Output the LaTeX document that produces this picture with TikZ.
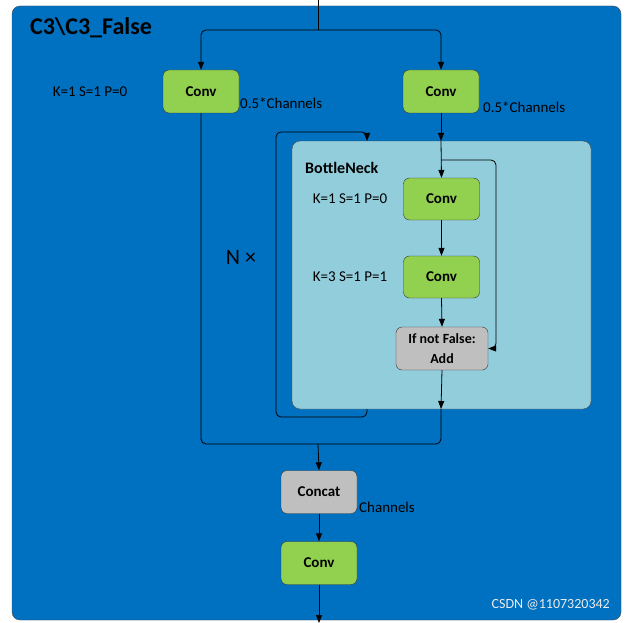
\documentclass[tikz,border=0pt]{standalone}
\usepackage{fontspec}
\setmainfont{Carlito}
\usetikzlibrary{arrows.meta}
\definecolor{bg}{HTML}{0070C0}
\definecolor{bn}{HTML}{92CDDC}
\definecolor{gr}{HTML}{92D050}
\definecolor{gy}{HTML}{BFBFBF}
\begin{document}
\begin{tikzpicture}[x=1pt,y=-1pt,
  box/.style={draw=black!80,rounded corners=6pt,minimum width=76pt,minimum height=43pt,font=\bfseries\fontsize{15}{17}\selectfont,align=center,inner sep=1pt},
  lbl/.style={font=\fontsize{15}{17}\selectfont,inner sep=0pt},
  ar/.style={-{Triangle[length=8pt,width=6pt]},line width=0.8pt},
  ln/.style={line width=0.8pt,rounded corners=5pt}]
\useasboundingbox (0,0) rectangle (626,623);
\fill[white] (0,0) rectangle (626,623);
\draw[fill=bg,draw=black!70,rounded corners=8pt] (12,6) rectangle (621,620);
\node[font=\bfseries\fontsize{24}{26}\selectfont,anchor=west,inner sep=0pt] (title) at (30,28) {C3\textbackslash C3\_False};
\draw[fill=bn,draw=black!70,rounded corners=8pt] (292,141) rectangle (591,409);
\node[font=\bfseries\fontsize{16}{18}\selectfont,anchor=west,inner sep=0pt] (bnl) at (305,168) {BottleNeck};
\node[box,fill=gr] (c1) at (201,91.5) {Conv};
\node[box,fill=gr] (c2) at (441,91.5) {Conv};
\node[box,fill=gr,minimum height=42pt] (ca) at (441.5,199) {Conv};
\node[box,fill=gr,minimum height=42pt] (cb) at (441.5,277) {Conv};
\node[box,fill=gy,minimum width=92pt,font=\bfseries\fontsize{14}{20}\selectfont] (add) at (442,348.5) {If not False:\\Add};
\node[box,fill=gy] (cc) at (319,492) {Concat};
\node[box,fill=gr] (c3) at (319,563) {Conv};
\node[lbl] (k0) at (90,92) {K=1 S=1 P=0};
\node[lbl,anchor=west] (h1) at (240,103) {0.5*Channels};
\node[lbl,anchor=west] (h2) at (483,107) {0.5*Channels};
\node[lbl] (k1) at (350,199) {K=1 S=1 P=0};
\node[lbl] (k2) at (350,277) {K=3 S=1 P=1};
\node[lbl,font=\fontsize{22}{24}\selectfont] (nx) at (241,257) {N ×};
\node[lbl,anchor=west] (ch) at (359,507) {Channels};
\node[anchor=east,inner sep=0pt,text=white!85!gray,font=\fontsize{14}{16}\selectfont] (wm) at (610,605) {CSDN @1107320342};
\coordinate (top) at (318,0);
\coordinate (bot) at (319,623);
\coordinate (j1) at (318,444);
\draw[ln] (top) -- (318,30);
\draw[ar,ln] (318,30) -| (c1.north);
\draw[ar,ln] (318,30) -| (c2.north);
\draw[ar] (c2.south) -- (441,141);
\draw[ar] (441,141) -- (ca.north);
\draw[ar] (ca) -- (cb);
\draw[ar] (cb.south) -- (add.north);
\draw[ar,ln] (441,160) -- (496,160) |- (add.east);
\draw[ar,ln] (367,409) -- (367,417) -- (276,417) -- (276,132) -- (367,132) -- (367,141);
\draw[ar] (add.south) -- (441,409);
\draw[ln] (441,409) |- (j1);
\draw[ln] (c1.south) |- (j1);
\draw[ar] (j1) -- (cc.north);
\draw[ar] (cc) -- (c3);
\draw[ar] (c3.south) -- (bot);
\end{tikzpicture}
\end{document}
